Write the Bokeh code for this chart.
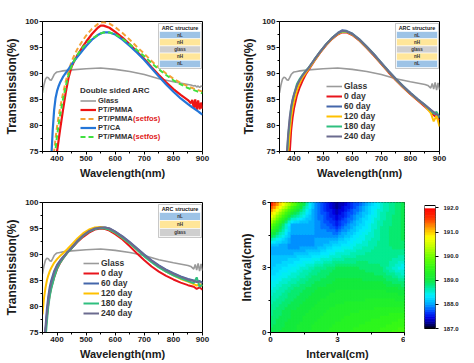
import numpy as np
from bokeh.plotting import figure
from bokeh.models import (Range1d, FixedTicker, Legend, LegendItem, Label, BoxAnnotation,
                          LinearColorMapper, PrintfTickFormatter, ColumnDataSource)
from bokeh.layouts import row, column
from bokeh.embed import file_html
from bokeh.resources import INLINE

FONT = "Liberation Sans"

# ---------------- data ----------------
X_TICKS = [400, 500, 600, 700, 800, 900]
X_MINOR = [350, 450, 550, 650, 750, 850]
Y_TICKS = [75, 80, 85, 90, 95, 100]
Y_MINOR = [77.5, 82.5, 87.5, 92.5, 97.5]

WL_GLASS = [350, 355, 360, 365, 370, 375, 380, 385, 390, 395, 400, 410, 420, 450, 500, 550,
            600, 650, 700, 750, 800, 850, 860, 870, 875, 880, 885, 890, 895, 900]
GLASS_A = [86.3, 87.8, 88.9, 89.3, 89.2, 88.8, 88.7, 89.2, 89.8, 90.1, 90.3, 90.4, 90.5, 90.7,
           90.9, 91.05, 90.8, 90.4, 89.8, 89.0, 88.4, 87.9, 87.8, 87.6, 87.7, 87.4, 87.6, 87.3, 87.6, 87.5]
GLASS_BC = [86.3, 87.8, 88.9, 89.3, 89.2, 88.8, 88.7, 89.2, 89.8, 90.1, 90.3, 90.4, 90.5, 90.7,
            90.9, 91.05, 90.8, 90.4, 89.8, 89.0, 88.4, 87.9, 87.7, 87.2, 88.1, 87.0, 88.3, 86.8, 88.2, 86.9]

WL_A = [380, 385, 390, 395, 400, 405, 410, 420, 430, 440, 450, 460, 470, 480, 490, 500, 520, 540,
        550, 560, 580, 600, 625, 650, 675, 700, 725, 750, 775, 800, 825, 850, 860, 865, 870, 875,
        880, 885, 890, 895, 900]
A_PMMA = [68.0, 69.5, 71.0, 73.0, 75.0, 77.0, 79.0, 82.8, 86.4, 89.3, 91.3, 92.5, 93.5, 94.4, 95.3,
          96.1, 97.6, 98.8, 99.2, 99.2, 98.8, 98.0, 96.9, 95.6, 94.2, 92.8, 91.2, 89.7, 88.3, 87.0,
          85.9, 84.9, 84.3, 84.9, 83.4, 85.0, 83.0, 84.8, 83.1, 84.4, 83.2]
A_PMMA_SIM = [70.0, 72.5, 75.0, 77.6, 79.8, 81.6, 83.2, 86.0, 88.5, 90.6, 92.3, 93.6, 94.7, 95.6,
              96.5, 97.3, 98.6, 99.5, 99.8, 99.9, 99.6, 98.9, 97.8, 96.5, 95.1, 93.8, 92.4, 91.1,
              90.0, 89.0, 88.2, 87.5, 87.3, 87.2, 87.1, 87.0, 86.9, 86.8, 86.7, 86.6, 86.5]
A_CA = [73.5, 79.0, 83.0, 85.3, 86.6, 87.5, 88.2, 89.3, 90.1, 90.9, 91.7, 92.5, 93.2, 93.9, 94.6,
        95.3, 96.5, 97.4, 97.7, 97.9, 97.9, 97.5, 96.5, 95.3, 94.0, 92.6, 91.0, 89.4, 87.9, 86.5,
        85.2, 84.1, 83.7, 83.5, 83.3, 83.1, 82.9, 82.7, 82.5, 82.3, 82.1]
A_CA_SIM = [68.0, 70.0, 72.5, 75.5, 78.0, 80.0, 81.8, 84.9, 87.6, 89.8, 91.4, 92.6, 93.6, 94.4,
            95.1, 95.7, 96.7, 97.4, 97.7, 97.9, 97.9, 97.5, 96.7, 95.6, 94.5, 93.3, 92.0, 90.8,
            89.7, 88.7, 87.9, 87.2, 87.0, 86.9, 86.8, 86.7, 86.6, 86.5, 86.4, 86.3, 86.2]

DAY_LABELS = ["0 day", "60 day", "120 day", "180 day", "240 day"]

WL_B = [370, 375, 380, 385, 390, 395, 400, 410, 420, 430, 440, 450, 470, 490, 510, 530, 550, 565,
        580, 600, 625, 650, 675, 700, 725, 750, 775, 800, 825, 850, 870, 880, 890, 900]
B_0 = [66, 68, 71, 74.5, 79.0, 81.5, 83.3, 85.8, 87.4, 88.7, 89.8, 90.7, 92.4, 94.0, 95.4, 96.6,
       97.5, 97.9, 97.9, 97.4, 96.3, 94.9, 93.4, 91.8, 90.2, 88.7, 87.3, 86.0, 84.8, 83.6, 82.6,
       82.0, 81.6, 81.0]
B_60 = [68, 72.5, 77.0, 80.0, 82.5, 84.2, 85.4, 87.3, 88.5, 89.5, 90.3, 91.0, 92.6, 94.2, 95.6,
        96.8, 97.8, 98.3, 98.2, 97.7, 96.6, 95.2, 93.7, 92.1, 90.5, 89.0, 87.6, 86.3, 85.1, 84.0,
        83.0, 82.5, 82.0, 81.5]
B_120 = [66, 70, 75.0, 78.5, 81.5, 83.3, 84.7, 86.8, 88.2, 89.3, 90.1, 90.9, 92.5, 94.1, 95.5,
         96.7, 97.6, 98.0, 98.0, 97.5, 96.4, 95.0, 93.5, 91.9, 90.3, 88.8, 87.4, 86.1, 84.9, 83.8,
         82.4, 80.8, 81.9, 79.8]
B_180 = [69, 73.5, 78.0, 80.8, 83.3, 84.8, 86.0, 88.0, 89.0, 89.8, 90.5, 91.1, 92.7, 94.2, 95.6,
         96.8, 97.7, 98.1, 98.1, 97.6, 96.5, 95.1, 93.6, 92.0, 90.4, 88.9, 87.5, 86.2, 85.0, 83.9,
         82.9, 82.3, 82.6, 81.6]
B_240 = [70.0, 74.5, 78.5, 81.5, 83.6, 85.0, 86.0, 87.7, 88.8, 89.7, 90.4, 91.1, 92.7, 94.2, 95.6,
         96.8, 97.7, 98.2, 98.1, 97.6, 96.5, 95.1, 93.6, 92.0, 90.4, 88.9, 87.5, 86.2, 85.0, 83.9,
         83.0, 82.6, 82.2, 81.8]

WL_C = [350, 355, 360, 365, 370, 375, 380, 390, 400, 410, 420, 435, 450, 470, 490, 510, 530, 550,
        565, 580, 600, 625, 650, 675, 700, 725, 750, 775, 800, 825, 850, 870, 880, 890, 900]
C_0 = [68, 71.5, 75.0, 78.0, 80.5, 82.3, 83.6, 85.6, 87.2, 88.3, 89.2, 90.3, 91.2, 92.4, 93.4,
       94.2, 94.8, 95.0, 94.9, 94.6, 93.9, 92.9, 91.6, 90.2, 88.9, 87.7, 86.7, 85.9, 85.2, 84.6,
       84.1, 83.8, 83.4, 83.7, 83.2]
C_60 = [69, 72.5, 75.8, 79.5, 82.0, 83.8, 85.0, 86.8, 88.0, 88.8, 89.5, 90.4, 91.3, 92.6, 93.7,
        94.5, 95.0, 95.2, 95.2, 95.0, 94.4, 93.5, 92.4, 91.2, 90.0, 88.9, 87.9, 87.1, 86.4, 85.8,
        85.3, 85.0, 84.8, 84.9, 84.6]
C_120 = [78.5, 81.5, 83.5, 85.0, 86.0, 86.8, 87.4, 88.4, 89.1, 89.7, 90.2, 91.0, 91.9, 93.1, 94.1,
         94.8, 95.2, 95.3, 95.1, 94.8, 94.2, 93.2, 92.1, 90.9, 89.7, 88.6, 87.6, 86.7, 86.0, 85.3,
         84.8, 84.3, 84.0, 84.3, 83.9]
C_180 = [66, 70, 73.5, 77.0, 80.0, 82.0, 83.4, 85.6, 87.3, 88.4, 89.2, 90.3, 91.2, 92.5, 93.6,
         94.4, 94.9, 95.1, 95.0, 94.8, 94.2, 93.2, 92.1, 90.9, 89.6, 88.5, 87.5, 86.7, 86.0, 85.4,
         84.9, 84.5, 85.6, 83.8, 84.2]
C_240 = [68, 72, 75.2, 78.5, 81.2, 83.2, 84.5, 86.5, 87.8, 88.7, 89.4, 90.4, 91.3, 92.6, 93.7,
         94.5, 95.0, 95.2, 95.2, 95.0, 94.4, 93.4, 92.3, 91.1, 89.9, 88.8, 87.8, 87.0, 86.3, 85.7,
         85.2, 84.9, 84.7, 84.8, 84.5]

# thickness map (nm), rows y = 0..6 cm, columns x = 0..6 cm
MAP_X = [0, 1, 2, 3, 4, 5, 6]
MAP_Y = [0, 1, 2, 3, 4, 5, 6]
THICK = [
    [188.95, 189.10, 189.25, 189.35, 189.45, 189.55, 189.70],
    [188.75, 189.00, 189.15, 189.25, 189.30, 189.35, 189.40],
    [188.50, 188.80, 189.00, 189.10, 189.10, 189.10, 189.00],
    [188.15, 188.40, 188.70, 188.90, 188.90, 188.80, 188.40],
    [188.05, 187.95, 188.00, 188.30, 188.55, 188.75, 188.90],
    [190.10, 188.05, 188.00, 187.60, 188.20, 188.70, 188.95],
    [192.00, 190.10, 188.00, 187.20, 187.80, 188.55, 188.95],
]
CB_LOW, CB_HIGH = 187.0, 192.1
CB_TICKS = [187.0, 188.0, 189.0, 190.0, 191.0, 192.0]
MAP_TICKS = [0, 3, 6]
MAP_MINOR = [1.5, 4.5]

# ---------------- styles ----------------
C_GLASS = "#9a9a9a"
DAY_COLORS = ["#e8141c", "#4466aa", "#ffc000", "#2fbf7f", "#6b6b8f"]
BLUE_L, YEL_L, GRAY_L = "#9dc3e6", "#ffe699", "#cfcfcf"


def base_fig(w, h, bl, bt, fw, fh, xr, yr, **kw):
    p = figure(width=w, height=h, x_range=Range1d(*xr), y_range=Range1d(*yr),
               output_backend="svg", toolbar_location=None, tools="",
               min_border_left=bl, min_border_top=bt,
               min_border_right=w - bl - fw, min_border_bottom=h - bt - fh, **kw)
    p.grid.visible = False
    p.outline_line_color = "black"
    p.outline_line_width = 1
    p.outline_line_alpha = 1.0
    p.background_fill_color = "white"
    p.border_fill_color = "white"
    return p


def style_axis(ax, label, size, ticks, minor, lab_standoff=3):
    ax.axis_label = label
    ax.ticker = FixedTicker(ticks=ticks, minor_ticks=minor)
    ax.axis_line_color = "black"
    ax.major_tick_line_color = "black"
    ax.minor_tick_line_color = "black"
    ax.major_tick_out = 3
    ax.major_tick_in = 0
    ax.minor_tick_out = 2
    ax.minor_tick_in = 0
    ax.major_label_standoff = 1
    ax.major_label_text_font = FONT
    ax.major_label_text_font_style = "bold"
    ax.major_label_text_font_size = "8px"
    ax.major_label_text_color = "#1a1a1a"
    ax.axis_label_text_font = FONT
    ax.axis_label_text_font_style = "bold"
    ax.axis_label_text_font_size = size
    ax.axis_label_text_color = "#1a1a1a"
    ax.axis_label_standoff = lab_standoff


def lab(p, x, y, text, size, color="#1a1a1a", bold=True, align="left"):
    p.add_layout(Label(x=x, y=y, x_units="screen", y_units="screen", text=text,
                       text_font=FONT, text_font_size=size,
                       text_font_style="bold" if bold else "normal",
                       text_color=color, text_align=align, text_baseline="middle"))


def box(p, l, r, t, b, fill, line="#ffffff", lw=0.6):
    p.add_layout(BoxAnnotation(left=l, right=r, top=t, bottom=b,
                               left_units="screen", right_units="screen",
                               top_units="screen", bottom_units="screen",
                               fill_color=fill, fill_alpha=1.0,
                               line_color=line, line_width=lw, line_alpha=1.0))


def inset(p, fh, layers, lh):
    L, R = 117, 158
    bottom_d = 10 + lh * len(layers)
    box(p, L - 1, R + 1, fh - 2, fh - bottom_d - 1, "white", line="#b0b0b0", lw=0.7)
    lab(p, (L + R) / 2, fh - 6.5, "ARC structure", "5.4px", align="center")
    for i, (txt, col) in enumerate(layers):
        d0 = 10 + i * lh
        box(p, L, R, fh - d0, fh - d0 - lh, col)
        lab(p, (L + R) / 2, fh - d0 - lh / 2, txt, "4.5px", color="#333333", align="center")


def legend(p, items, loc, size, label_h, spacing=0, title=None):
    leg = Legend(items=items, location=loc, orientation="vertical", padding=0, margin=0,
                 spacing=spacing, glyph_width=16, glyph_height=label_h, label_height=label_h,
                 label_standoff=2, label_text_font=FONT, label_text_font_style="bold",
                 label_text_font_size=size, label_text_color="#333333",
                 background_fill_alpha=0, border_line_alpha=0)
    if title:
        leg.title = title
        leg.title_text_font = FONT
        leg.title_text_font_style = "bold"
        leg.title_text_font_size = "8px"
        leg.title_text_color = "#333333"
        leg.title_standoff = 1
    p.add_layout(leg)


def spectrum_fig(w, h, bl, bt, fw, fh):
    p = base_fig(w, h, bl, bt, fw, fh, (350, 900), (75, 100))
    style_axis(p.xaxis[0], "Wavelength(nm)", "11px", X_TICKS, X_MINOR, 3)
    style_axis(p.yaxis[0], "Transmission(%)", "12px", Y_TICKS, Y_MINOR, 3)
    return p


FW, FH = 160, 130
W, H1, H2 = 237, 181, 182
LAYERS5 = [("nL", BLUE_L), ("nH", YEL_L), ("glass", GRAY_L), ("nH", YEL_L), ("nL", BLUE_L)]

# ---------------- panel (a) ----------------
pa = spectrum_fig(W, H1, 42, 21, FW, FH)
rg = pa.line(WL_GLASS, GLASS_A, line_color=C_GLASS, line_width=1.6)
r1 = pa.line(WL_A, A_PMMA, line_color="#ee1414", line_width=2.2)
r2 = pa.line(WL_A, A_PMMA_SIM, line_color="#f4a236", line_width=2.0, line_dash="5 3")
r3 = pa.line(WL_A, A_CA, line_color="#2476d8", line_width=2.2)
r4 = pa.line(WL_A, A_CA_SIM, line_color="#3fe03f", line_width=2.0, line_dash="5 3")
legend(pa, [LegendItem(label="Glass", renderers=[rg]),
            LegendItem(label="PT/PMMA", renderers=[r1]),
            LegendItem(label="PT/PMMA", renderers=[r2]),
            LegendItem(label="PT/CA", renderers=[r3]),
            LegendItem(label="PT/PMMA", renderers=[r4])],
       (38, 10.5), "7.5px", 9, 0, title="Double sided ARC")
lab(pa, 90.6, 10.5 + 2 * 9 + 4.5, "(setfos)", "7.5px", color="#e0201a")
lab(pa, 90.6, 10.5 + 4.5, "(setfos)", "7.5px", color="#e0201a")
inset(pa, FH, LAYERS5, 7.2)
lab(pa, -39, FH + 3.5, "(a)", "11px")

# ---------------- panel (b) ----------------
pb = spectrum_fig(W, H1, 42, 21, FW, FH)
items_b = [LegendItem(label="Glass", renderers=[pb.line(WL_GLASS, GLASS_BC, line_color=C_GLASS, line_width=1.6)])]
for lbl, col, vals in zip(DAY_LABELS, DAY_COLORS, [B_0, B_60, B_120, B_180, B_240]):
    items_b.append(LegendItem(label=lbl, renderers=[pb.line(WL_B, vals, line_color=col, line_width=2.0)]))
legend(pb, items_b, (47, 10), "8.5px", 10)
inset(pb, FH, LAYERS5, 7.2)
lab(pb, -38, FH + 3.5, "(b)", "11px")

# ---------------- panel (c) ----------------
pc = spectrum_fig(W, H2, 42, 21, FW, FH)
items_c = [LegendItem(label="Glass", renderers=[pc.line(WL_GLASS, GLASS_BC, line_color=C_GLASS, line_width=1.6)])]
for lbl, col, vals in zip(DAY_LABELS, DAY_COLORS, [C_0, C_60, C_120, C_180, C_240]):
    items_c.append(LegendItem(label=lbl, renderers=[pc.line(WL_C, vals, line_color=col, line_width=2.0)]))
legend(pc, items_c, (41, 14), "8.5px", 10)
inset(pc, FH, [("nL", BLUE_L), ("nH", YEL_L), ("glass", GRAY_L)], 8)
lab(pc, -39, FH + 3.5, "(c)", "11px")

# ---------------- panel (d) ----------------
ANCH = [(187.0, "#000000"), (187.2, "#000080"), (187.45, "#0000e0"), (187.7, "#0040ff"),
        (188.0, "#00a0ff"), (188.2, "#00d0ff"), (188.4, "#00f0ff"), (188.7, "#00eca0"),
        (189.0, "#10e840"), (189.5, "#30f818"), (190.0, "#70ff00"), (190.4, "#c0ff00"),
        (190.8, "#ffff00"), (191.0, "#ffd000"), (191.3, "#ff8000"), (191.6, "#ff3000"),
        (192.0, "#ff0000")]
av = np.array([a for a, _ in ANCH])
ac = np.array([[int(c[i:i + 2], 16) for i in (1, 3, 5)] for _, c in ANCH], dtype=float)
pal = []
for k in range(50):
    v = 187.05 + 0.1 * k
    rgb = [int(round(np.interp(v, av, ac[:, j]))) for j in range(3)]
    pal.append("#%02x%02x%02x" % tuple(rgb))
pal.append("#ffffff")
mapper = LinearColorMapper(palette=pal, low=CB_LOW, high=CB_HIGH)

# smooth rendering of the measured grid (bilinear between measurement points)
zt = np.array(THICK, dtype=float)
NC = 45
cx = (np.arange(NC) + 0.5) * 6.0 / NC
tmp = np.array([np.interp(cx, MAP_X, r) for r in zt])                    # [y_meas, x]
zc = np.array([np.interp(cx, MAP_Y, tmp[:, i]) for i in range(NC)])     # [x, y]
GX, GY = np.meshgrid(cx, cx, indexing="ij")
map_src = ColumnDataSource(dict(x=GX.ravel(), y=GY.ravel(), z=zc.ravel()))

pd = base_fig(168, H2, 32, 21, 135, FH, (0, 6), (0, 6))
pd.background_fill_color = "#20e070"
pd.rect(x="x", y="y", width=6.0 / NC, height=6.0 / NC, source=map_src,
        fill_color={"field": "z", "transform": mapper}, fill_alpha=1.0,
        line_color={"field": "z", "transform": mapper}, line_alpha=1.0, line_width=1.4)
style_axis(pd.xaxis[0], "Interval(cm)", "11px", MAP_TICKS, MAP_MINOR, 3)
style_axis(pd.yaxis[0], "Interval(cm)", "12px", MAP_TICKS, MAP_MINOR, 5)
lab(pd, -29, FH + 0.5, "(d)", "11px")

# colour scale as its own small plot (same borders as its row so frames align);
# the bar occupies 123 px of the 130 px frame: 3 px free above, 4 px below
BAR_PX, GAP_TOP, GAP_BOT = 123, 3, 4
upp = (CB_HIGH - CB_LOW) / BAR_PX
nb = len(pal)
edges = np.linspace(CB_LOW, CB_HIGH, nb + 1)
cb_src = ColumnDataSource(dict(bottom=edges[:-1], top=edges[1:], color=pal))
pcb = base_fig(69, H2, 19, 21, 11, FH, (0, 1),
               (CB_LOW - GAP_BOT * upp, CB_HIGH + GAP_TOP * upp), y_axis_location="right")
pcb.outline_line_color = None
pcb.quad(left=0, right=1, bottom="bottom", top="top", fill_color="color", line_color="color",
         line_width=0.8, source=cb_src)
pcb.quad(left=[0], right=[1], bottom=[CB_LOW], top=[CB_HIGH], fill_color=None,
         line_color="black", line_width=1)
pcb.xaxis.visible = False
ay = pcb.yaxis[0]
ay.ticker = FixedTicker(ticks=CB_TICKS, minor_ticks=[])
ay.formatter = PrintfTickFormatter(format="%.1f")
ay.axis_line_color = None
ay.major_tick_line_color = "black"
ay.major_tick_out = 3
ay.major_tick_in = 0
ay.minor_tick_line_color = None
ay.major_label_standoff = 5
ay.major_label_text_font = FONT
ay.major_label_text_font_style = "bold"
ay.major_label_text_font_size = "6px"
ay.major_label_text_color = "#1a1a1a"
lab(pcb, 6, FH + 6, "Thickness(nm)", "7px", align="center")

layout = column(row(pa, pb), row(pc, pd, pcb))
open("out.html", "w").write(file_html(layout, INLINE))
